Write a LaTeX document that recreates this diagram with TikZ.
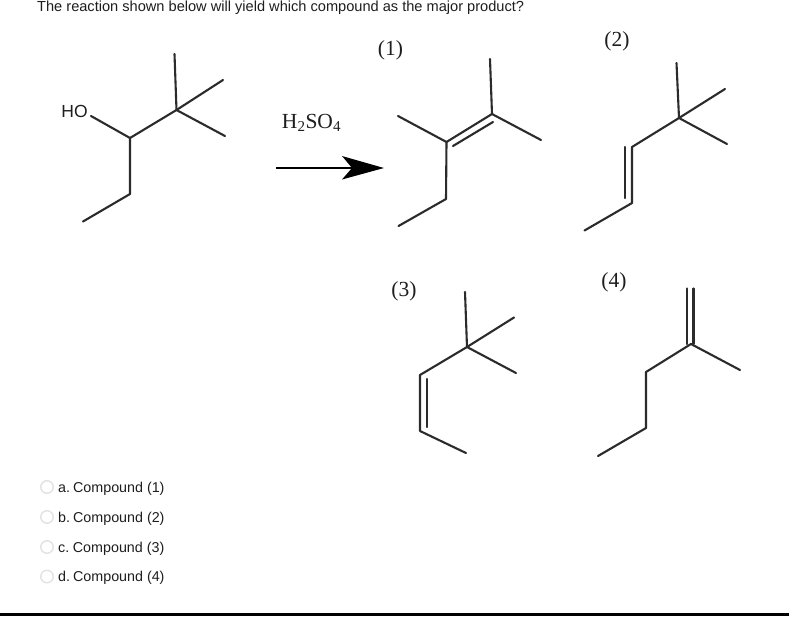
\documentclass[tikz,border=0pt]{standalone}
\usepackage{fontspec}
\setmainfont{Liberation Serif}
\newfontfamily\uifont{Liberation Sans}
\definecolor{bondcol}{HTML}{2B2B2B}
\definecolor{txtcol}{HTML}{1E1E1E}
\definecolor{radiocol}{HTML}{E2E2E2}
\tikzset{
  bond/.style={draw=bondcol,line width=2.1pt,line cap=round,line join=round},
  chem/.style={inner sep=0pt,text=txtcol,font=\fontsize{21.5}{24}\selectfont},
  ui/.style={inner sep=0pt,anchor=base west,text=txtcol,font=\uifont\fontsize{14.3}{16}\selectfont},
  radio/.style={circle,draw=radiocol,fill=white,line width=1.4pt,minimum size=12.5pt,inner sep=0pt},
}
\begin{document}
\begin{tikzpicture}[x=1pt,y=-1pt]
\useasboundingbox (0,0) rectangle (789,616);
\fill[white] (0,0) rectangle (789,616);
\fill[black] (0,612.5) rectangle (789,616);

\node[ui,font=\uifont\fontsize{14.6}{16}\selectfont] (title) at (37,11) {The reaction shown below will yield which compound as the major product?};

% reactant
\node[inner sep=0pt,text=txtcol,font=\uifont\fontsize{17.5}{20}\selectfont] (ho) at (74.5,111) {HO};
\coordinate (hoe) at (91,116);
\coordinate (ra) at (130,138);
\coordinate (rb) at (176.5,110);
\coordinate (rc) at (174.5,54);
\coordinate (rd) at (223,80);
\coordinate (re) at (225,136);
\coordinate (rf) at (130,194);
\coordinate (rg) at (83,221.5);
\draw[bond] (hoe) -- (ra) -- (rb) -- (rc);
\draw[bond] (rd) -- (rb) -- (re);
\draw[bond] (ra) -- (rf) -- (rg);

% reagent and arrow
\node[chem] (reagent) at (311.5,123) {H\textsubscript{2}SO\textsubscript{4}};
\coordinate (as) at (276,168);
\coordinate (an) at (352,168);
\coordinate (at) at (384,168);
\coordinate (au) at (342,156);
\coordinate (al) at (342,179.5);
\draw[draw=black,line width=2pt] (as) -- (an);
\fill[black] (at) -- (au) -- (an) -- (al) -- cycle;

% labels
\node[chem] (l1) at (390.5,50) {(1)};
\node[chem] (l2) at (617,41) {(2)};
\node[chem] (l3) at (404,291) {(3)};
\node[chem] (l4) at (614,282) {(4)};

% compound 1
\coordinate (a1) at (446.5,142);
\coordinate (a2) at (492,114);
\coordinate (a3) at (490,59);
\coordinate (a4) at (541,140);
\coordinate (a5) at (398,116);
\coordinate (a6) at (446,199);
\coordinate (a7) at (398.5,226);
\coordinate (a8) at (453,146);
\coordinate (a9) at (493,122);
\draw[bond] (a3) -- (a2) -- (a4);
\draw[bond] (a2) -- (a1) -- (a5);
\draw[bond] (a1) -- (a6) -- (a7);
\draw[bond] (a8) -- (a9);

% compound 2
\coordinate (b1) at (679,118);
\coordinate (b2) at (676.5,63);
\coordinate (b3) at (725,89);
\coordinate (b4) at (727,144);
\coordinate (b5) at (632,147);
\coordinate (b6) at (632,203);
\coordinate (b7) at (584.5,230.5);
\coordinate (b8) at (625,147);
\coordinate (b9) at (625,198);
\draw[bond] (b2) -- (b1) -- (b3);
\draw[bond] (b4) -- (b1) -- (b5) -- (b6) -- (b7);
\draw[bond] (b8) -- (b9);

% compound 3
\coordinate (c1) at (467,347);
\coordinate (c2) at (465,292);
\coordinate (c3) at (514,317.5);
\coordinate (c4) at (516,373);
\coordinate (c5) at (420,375);
\coordinate (c6) at (420,431);
\coordinate (c7) at (466,453);
\coordinate (c8) at (427,379);
\coordinate (c9) at (427,427);
\draw[bond] (c2) -- (c1) -- (c3);
\draw[bond] (c4) -- (c1) -- (c5) -- (c6) -- (c7);
\draw[bond] (c8) -- (c9);

% compound 4
\coordinate (d1) at (691,344);
\coordinate (d2) at (687,288.5);
\coordinate (d3) at (687,344);
\coordinate (d4) at (693.5,288.5);
\coordinate (d5) at (693.5,344);
\coordinate (d6) at (740,370);
\coordinate (d7) at (646,372);
\coordinate (d8) at (646,428);
\coordinate (d9) at (598,456);
\draw[bond] (d2) -- (d3);
\draw[bond] (d4) -- (d5);
\draw[bond] (d6) -- (d1) -- (d7) -- (d8) -- (d9);

% options
\node[radio] (ra1) at (47,487) {};
\node[radio] (ra2) at (47,517) {};
\node[radio] (ra3) at (47,547) {};
\node[radio] (ra4) at (47,576.5) {};
\node[ui] (o1) at (58,492) {a.\hspace{3pt}Compound (1)};
\node[ui] (o2) at (58,522) {b.\hspace{3pt}Compound (2)};
\node[ui] (o3) at (58,552) {c.\hspace{3.6pt}Compound (3)};
\node[ui] (o4) at (58,581.5) {d.\hspace{3pt}Compound (4)};
\end{tikzpicture}
\end{document}
